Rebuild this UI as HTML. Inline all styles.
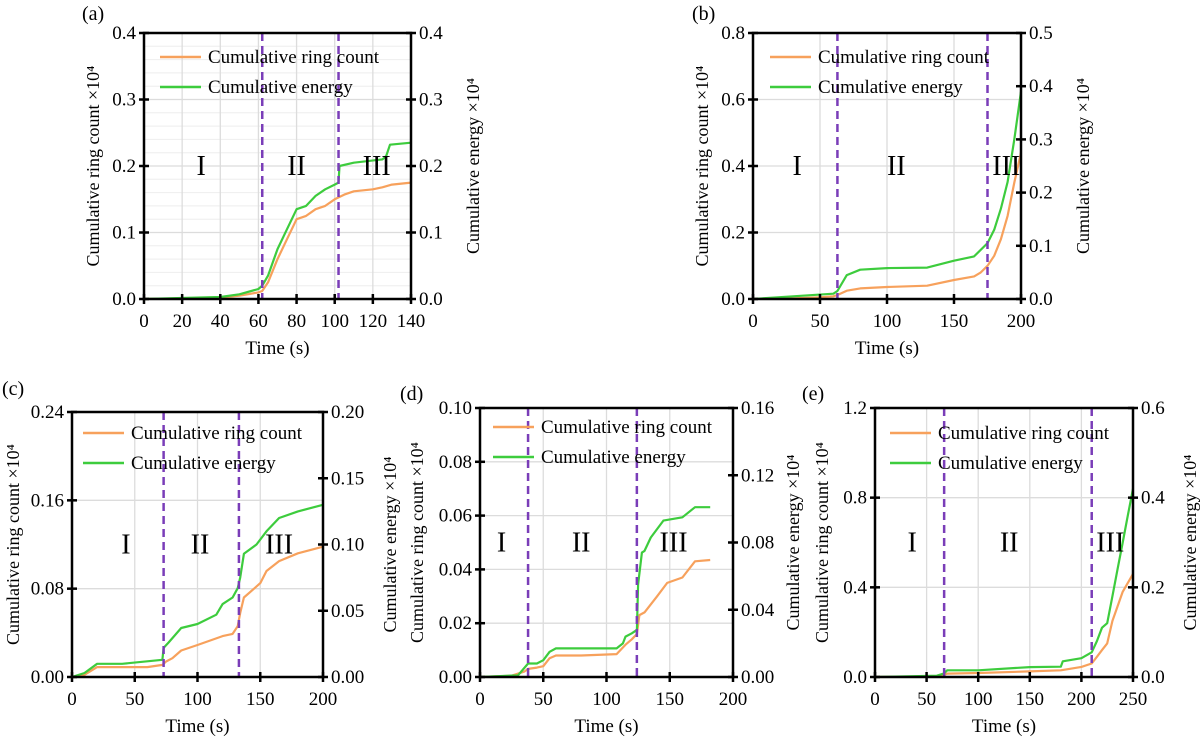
<!DOCTYPE html>
<html><head><meta charset="utf-8"><style>
html,body{margin:0;padding:0;background:#fff;}
svg{display:block;}
svg text{font-family:"Liberation Serif","Times New Roman",serif;}
</style></head><body>
<svg id="fig" width="1200" height="743" viewBox="0 0 1200 743" xmlns="http://www.w3.org/2000/svg" font-family="Liberation Serif, serif"></svg>
<script>
// Panel (a)
const aRingT=[0,40,50,60,62,65,70,75,80,85,90,95,100,105,110,120,125,130,140];
const aRing=[0,0.002,0.005,0.01,0.012,0.025,0.06,0.09,0.12,0.125,0.135,0.14,0.15,0.157,0.162,0.165,0.168,0.172,0.175];
const aEnT=[0,40,50,60,62,65,70,75,80,85,90,95,100,102,102.5,110,125,127,129,140];
const aEn=[0,0.003,0.007,0.015,0.02,0.035,0.075,0.105,0.135,0.14,0.155,0.165,0.172,0.175,0.2,0.205,0.21,0.215,0.232,0.235];
// Panel (b)
const bRingT=[0,30,50,60,63,70,80,100,130,150,165,170,175,180,185,190,195,200];
const bRing=[0,0.002,0.005,0.008,0.012,0.025,0.032,0.036,0.04,0.057,0.068,0.08,0.1,0.13,0.18,0.25,0.35,0.44];
const bEnT=[0,30,60,63,70,80,100,130,150,165,175,180,185,190,195,200];
const bEn=[0,0.005,0.01,0.015,0.045,0.055,0.058,0.059,0.072,0.08,0.105,0.13,0.17,0.22,0.3,0.39];
// Panel (c)
const cRingT=[0,10,20,40,60,72,75,80,87,100,120,128,132,134,137,145,150,155,165,180,200];
const cRing=[0,0.002,0.009,0.009,0.009,0.011,0.014,0.017,0.024,0.029,0.037,0.039,0.046,0.058,0.072,0.08,0.085,0.096,0.105,0.112,0.118];
const cEnT=[0,10,20,40,72,73,77,87,100,115,120,128,132,134,137,147,155,165,180,200];
const cEn=[0,0.003,0.01,0.01,0.013,0.022,0.026,0.037,0.04,0.047,0.055,0.06,0.067,0.075,0.093,0.1,0.11,0.12,0.125,0.13];
// Panel (d)
const dRingT=[0,25,35,38,45,50,55,60,80,108,115,120,124,126,130,140,148,160,170,182];
const dRing=[0,0.0005,0.002,0.003,0.0035,0.004,0.007,0.008,0.008,0.0085,0.012,0.014,0.016,0.023,0.024,0.03,0.035,0.037,0.043,0.0435];
const dEnT=[0,30,38,45,50,55,60,80,108,113,115,120,124,125,128,130,135,145,160,170,182];
const dEn=[0,0.001,0.008,0.008,0.01,0.015,0.017,0.017,0.017,0.02,0.024,0.026,0.028,0.055,0.074,0.075,0.083,0.093,0.095,0.101,0.101];
// Panel (e)
const eRingT=[0,60,67,70,100,150,180,200,210,215,220,225,230,240,250];
const eRing=[0,0.002,0.01,0.015,0.018,0.025,0.03,0.045,0.06,0.09,0.12,0.15,0.25,0.38,0.46];
const eEnT=[0,60,67,70,100,150,180,182,200,210,215,220,225,230,235,240,245,250];
const eEn=[0,0.003,0.008,0.015,0.015,0.022,0.023,0.035,0.042,0.055,0.08,0.11,0.12,0.18,0.24,0.3,0.36,0.42];
// Tick labels
const aXTicks=[0,20,40,60,80,100,120,140], aLTicks=[0,0.1,0.2,0.3,0.4], aRTicks=[0,0.1,0.2,0.3,0.4];
const bXTicks=[0,50,100,150,200], bLTicks=[0,0.2,0.4,0.6,0.8], bRTicks=[0,0.1,0.2,0.3,0.4,0.5];
const cXTicks=[0,50,100,150,200], cLTicks=[0,0.08,0.16,0.24], cRTicks=[0,0.05,0.1,0.15,0.2];
const dXTicks=[0,50,100,150,200], dLTicks=[0,0.02,0.04,0.06,0.08,0.1], dRTicks=[0,0.04,0.08,0.12,0.16];
const eXTicks=[0,50,100,150,200,250], eLTicks=[0,0.4,0.8,1.2], eRTicks=[0,0.2,0.4,0.6];
const aStages=[62,102], bStages=[63,175], cStages=[73,133], dStages=[38,124], eStages=[67,210];

const svg=document.getElementById('fig');
const NS='http://www.w3.org/2000/svg';
const FF='Liberation Serif, Times New Roman, serif';
function mk(tag,attrs,parent,text){const e=document.createElementNS(NS,tag);for(const k in attrs)e.setAttribute(k,attrs[k]);if(tag==='text')e.setAttribute('font-family',FF);if(text!==undefined)e.textContent=text;(parent||svg).appendChild(e);return e;}

const panels=[
 {id:'a',L:144,R:411,T:33,B:299,xmax:140,lmax:0.4,rmax:0.4,xt:aXTicks,lt:aLTicks,rt:aRTicks,ld:1,rd:1,rT:aRingT,r:aRing,eT:aEnT,e:aEn,st:aStages,lab:[82,20],lx:93,rx:473,leg:[160,57],roman:[30,80,122],minor:true},
 {id:'b',L:753,R:1021,T:33,B:299,xmax:200,lmax:0.8,rmax:0.5,xt:bXTicks,lt:bLTicks,rt:bRTicks,ld:1,rd:1,rT:bRingT,r:bRing,eT:bEnT,e:bEn,st:bStages,lab:[692,20],lx:702,rx:1083,leg:[770,57],roman:[33,107,189]},
 {id:'c',L:72,R:323,T:412,B:677,xmax:200,lmax:0.24,rmax:0.2,xt:cXTicks,lt:cLTicks,rt:cRTicks,ld:2,rd:2,rT:cRingT,r:cRing,eT:cEnT,e:cEn,st:cStages,lab:[2,395],lx:13,rx:390,leg:[83,433],roman:[43,102,165]},
 {id:'d',L:480,R:733,T:408,B:677,xmax:200,lmax:0.1,rmax:0.16,xt:dXTicks,lt:dLTicks,rt:dRTicks,ld:2,rd:2,rT:dRingT,r:dRing,eT:dEnT,e:dEn,st:dStages,lab:[400,400],lx:417,rx:793,leg:[493,427],roman:[17,80,153]},
 {id:'e',L:875,R:1133,T:408,B:677,xmax:250,lmax:1.2,rmax:0.6,xt:eXTicks,lt:eLTicks,rt:eRTicks,ld:1,rd:1,rT:eRingT,r:eRing,eT:eEnT,e:eEn,st:eStages,lab:[802,400],lx:822,rx:1190,leg:[890,433],roman:[36,130,228]}
];

panels.forEach(p=>{
 const g=mk('g',{});
 
 
 const X=v=>p.L+(v/p.xmax)*(p.R-p.L);
 const YL=v=>p.B-(v/p.lmax)*(p.B-p.T);
 const YR=v=>p.B-(v/p.rmax)*(p.B-p.T);
 if(p.minor){for(let v=0.02;v<p.lmax;v+=0.02){const l=mk('line',{x1:p.L,x2:p.R,y1:YL(v),y2:YL(v),stroke:'#eeeeee','stroke-width':1},g);}}
 p.xt.forEach(v=>{const l=mk('line',{x1:X(v),x2:X(v),y1:p.T,y2:p.B,stroke:'#dcdcdc','stroke-width':1.3},g);});
 p.lt.forEach(v=>{const l=mk('line',{x1:p.L,x2:p.R,y1:YL(v),y2:YL(v),stroke:'#dcdcdc','stroke-width':1.3},g);});
 const rp=p.rT.map((t,i)=>X(t).toFixed(1)+','+YL(p.r[i]).toFixed(1)).join(' ');
 const ep=p.eT.map((t,i)=>X(t).toFixed(1)+','+YR(p.e[i]).toFixed(1)).join(' ');
 const rl=mk('polyline',{points:rp,fill:'none',stroke:'#f7a15c','stroke-width':2.2,'stroke-linejoin':'round'},g);
 
 const el=mk('polyline',{points:ep,fill:'none',stroke:'#3dcc3d','stroke-width':2.2,'stroke-linejoin':'round'},g);
 
 p.st.forEach(v=>{const l=mk('line',{x1:X(v),x2:X(v),y1:p.T,y2:p.B,stroke:'#7a3db8','stroke-width':2.5,'stroke-dasharray':'8,5'},g);});
 ['I','II','III'].forEach((s,i)=>{const t=mk('text',{x:X(p.roman[i]),y:(p.T+p.B)/2+9,'font-size':28,'text-anchor':'middle'},g,s);});
 const fr=mk('rect',{x:p.L,y:p.T,width:p.R-p.L,height:p.B-p.T,fill:'none',stroke:'#000','stroke-width':2.5},g);
 
 p.xt.forEach(v=>{const l=mk('line',{x1:X(v),x2:X(v),y1:p.B-5,y2:p.B+5,stroke:'#000','stroke-width':2.5},g);
  const t=mk('text',{x:X(v),y:p.B+28,'font-size':19,'text-anchor':'middle'},g,String(v));});
 p.lt.forEach(v=>{const l=mk('line',{x1:p.L-5,x2:p.L+5,y1:YL(v),y2:YL(v),stroke:'#000','stroke-width':2.5},g);
  const t=mk('text',{x:p.L-8,y:YL(v)+6,'font-size':19,'text-anchor':'end'},g,v.toFixed(p.ld));});
 p.rt.forEach(v=>{const l=mk('line',{x1:p.R-5,x2:p.R+5,y1:YR(v),y2:YR(v),stroke:'#000','stroke-width':2.5},g);
  const t=mk('text',{x:p.R+8,y:YR(v)+6,'font-size':19,'text-anchor':'start'},g,v.toFixed(p.rd));});
 const xt=mk('text',{x:(p.L+p.R)/2,y:p.B+55,'font-size':19,'text-anchor':'middle'},g,'Time (s)');
 
 const cy=(p.T+p.B)/2;
 const lt=mk('text',{x:p.lx,y:cy,'font-size':18,'text-anchor':'middle',transform:`rotate(-90 ${p.lx} ${cy})`,dy:6},g,'Cumulative ring count ×10⁴');
 
 const rtt=mk('text',{x:p.rx,y:cy,'font-size':18,'text-anchor':'middle',transform:`rotate(-90 ${p.rx} ${cy})`,dy:6},g,'Cumulative energy ×10⁴');
 
 const pl=mk('text',{x:p.lab[0],y:p.lab[1],'font-size':20},g,'('+p.id+')');
 
 const lg=mk('g',{},g);
 [['Cumulative ring count','#f7a15c'],['Cumulative energy','#3dcc3d']].forEach((it,i)=>{
  const y=p.leg[1]+i*30;
  const l=mk('line',{x1:p.leg[0],x2:p.leg[0]+41,y1:y,y2:y,stroke:it[1],'stroke-width':2.5},lg);
  const t=mk('text',{x:p.leg[0]+48,y:y+6,'font-size':19},lg,it[0]);
 });
});
</script>
</body></html>
